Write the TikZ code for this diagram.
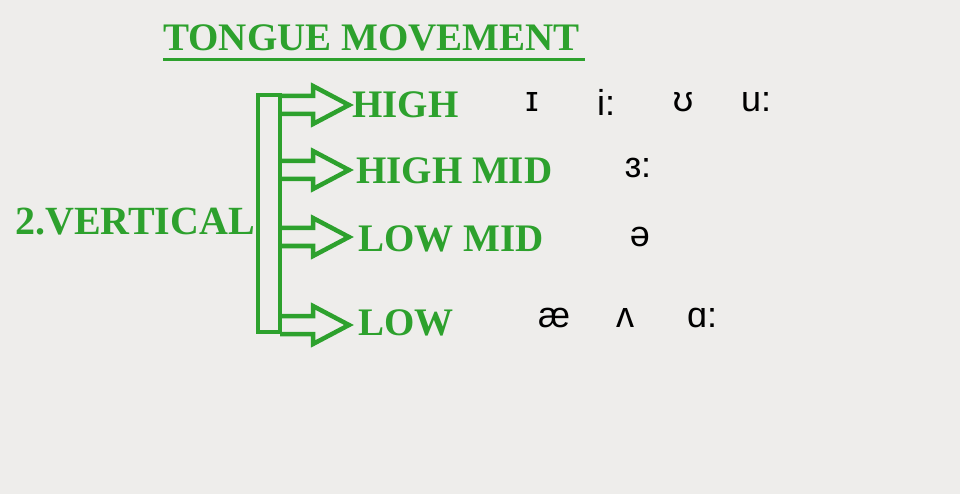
\documentclass[tikz,border=0pt]{standalone}
\usepackage{fontspec}
\setmainfont{Liberation Serif}
\newfontfamily\ipa{Liberation Sans}
\definecolor{bg}{HTML}{EEEDEB}
\definecolor{gr}{HTML}{2DA12D}
\begin{document}
\begin{tikzpicture}[x=1pt,y=-1pt,
  lbl/.style={text=gr,font=\bfseries\fontsize{39}{39}\selectfont,anchor=west,inner sep=0},
  sym/.style={font=\ipa\fontsize{36}{36}\selectfont,anchor=center,inner sep=0},
  ln/.style={draw=gr,line width=4.5pt}]
\fill[bg] (0,0) rectangle (960,494);
\useasboundingbox (0,0) rectangle (960,494);
\node[lbl] (title) at (163,38) {TONGUE MOVEMENT};
\draw[ln,line width=3pt] (163,60) -- (585,60);
\node[lbl,font=\bfseries\fontsize{40}{40}\selectfont] (vert) at (15,222) {2.VERTICAL};
\draw[ln] (258,95) rectangle (280,332);
\foreach \y/\n in {105/a,170/b,237/c,325/d}{
  \draw[ln,line join=miter] (280,\y-9) -- (313,\y-9) -- (313,\y-19) -- (349,\y) -- (313,\y+19) -- (313,\y+9) -- (280,\y+9);
}
\node[lbl] (high) at (352,105) {HIGH};
\node[lbl] (hmid) at (356,171) {HIGH MID};
\node[lbl] (lmid) at (358,239) {LOW MID};
\node[lbl] (low) at (358,323) {LOW};
\node[sym] (s1) at (532,102) {ɪ};
\node[sym] (s2) at (606,102) {i:};
\node[sym] (s3) at (683,102) {ʊ};
\node[sym] (s4) at (756,102) {u:};
\node[sym] (s5) at (638,168) {ɜ:};
\node[sym] (s6) at (640,237) {ə};
\node[sym] (s7) at (554,318) {æ};
\node[sym] (s8) at (625,318) {ʌ};
\node[sym] (s9) at (702,318) {ɑ:};
\end{tikzpicture}
\end{document}
